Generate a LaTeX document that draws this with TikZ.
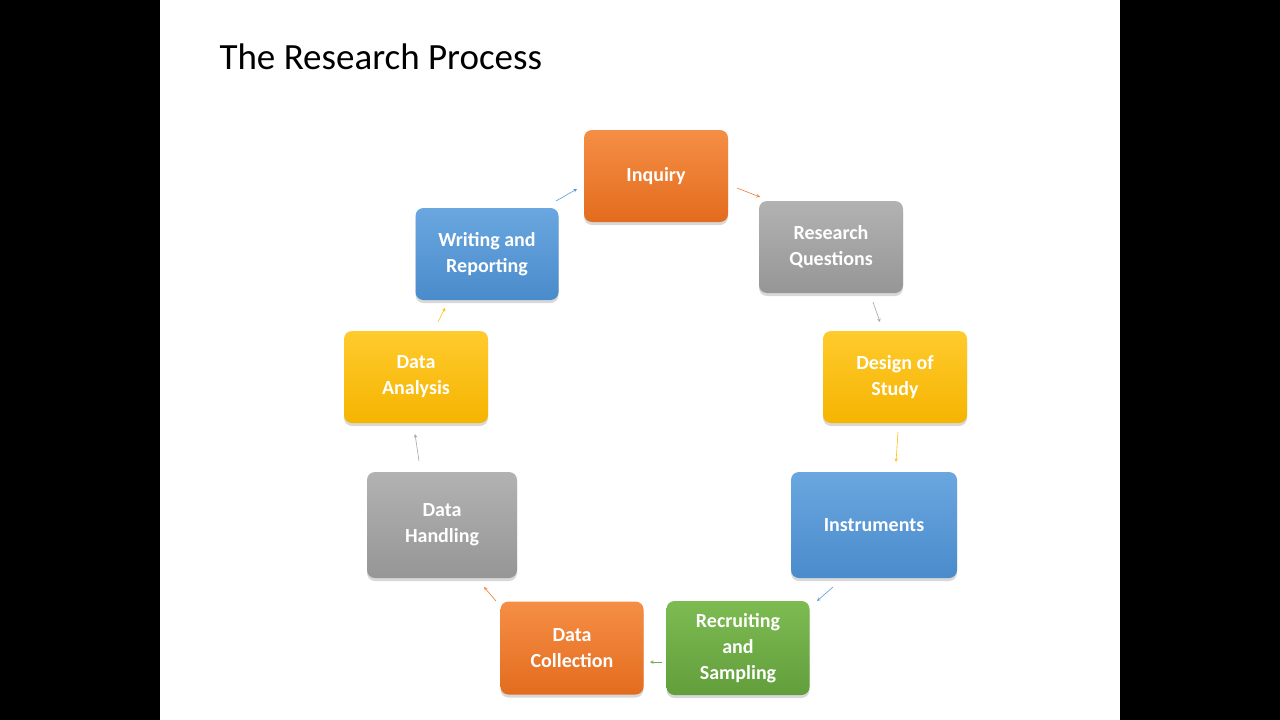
\documentclass[tikz,border=0pt]{standalone}
\usepackage{fontspec}
\setmainfont{Carlito}
\usetikzlibrary{shadows}
\definecolor{cor}{HTML}{ED7D31}\definecolor{corT}{HTML}{F58E45}\definecolor{corB}{HTML}{E36C1E}
\definecolor{cgr}{HTML}{A5A5A5}\definecolor{cgrT}{HTML}{B2B2B2}\definecolor{cgrB}{HTML}{969696}
\definecolor{cye}{HTML}{FFC000}\definecolor{cyeT}{HTML}{FFCB2E}\definecolor{cyeB}{HTML}{F5B400}
\definecolor{cbl}{HTML}{5B9BD5}\definecolor{cblT}{HTML}{6AA7E0}\definecolor{cblB}{HTML}{4A8BCB}
\definecolor{cgn}{HTML}{70AD47}\definecolor{cgnT}{HTML}{7DBB52}\definecolor{cgnB}{HTML}{629E3B}
\tikzset{
 box/.style={rounded corners=8pt, text=white, font=\bfseries\fontsize{20}{26}\selectfont, align=center, inner sep=0pt, drop shadow={shadow xshift=0pt,shadow yshift=-3pt,opacity=0.3}},
 bo/.style={box, top color=corT, bottom color=corB},
 bg/.style={box, top color=cgrT, bottom color=cgrB},
 by/.style={box, top color=cyeT, bottom color=cyeB},
 bb/.style={box, top color=cblT, bottom color=cblB},
 bn/.style={box, top color=cgnT, bottom color=cgnB},
 arr/.style={->, line width=0.6pt, >={stealth}},
}
\begin{document}
\begin{tikzpicture}[x=1pt,y=-1pt]
\fill[black] (0,0) rectangle (1280,720);
\fill[white] (160,0) rectangle (1120,720);
\useasboundingbox (0,0) rectangle (1280,720);
\node[anchor=west, font=\fontsize{37}{44}\selectfont] (title) at (216,57) {The Research Process};
\node[bo, minimum width=144, minimum height=92] (inq) at (656,176) {Inquiry};
\node[bg, minimum width=144, minimum height=92] (rq) at (831,247) {Research\\Questions};
\node[by, minimum width=144, minimum height=92] (ds) at (895,377) {Design of\\Study};
\node[bb, minimum width=166, minimum height=106] (ins) at (874,525) {Instruments};
\node[bn, minimum width=143, minimum height=94] (rs) at (738,648) {Recruiting\\and\\Sampling};
\node[bo, minimum width=143, minimum height=93] (dc) at (572,648) {Data\\Collection};
\node[bg, minimum width=150, minimum height=106] (dh) at (442,525) {Data\\Handling};
\node[by, minimum width=144, minimum height=92] (da) at (416,377) {Data\\Analysis};
\node[bb, minimum width=143, minimum height=92] (wr) at (487,254) {Writing and\\Reporting};
\coordinate (a1) at (737,188); \coordinate (b1) at (760,197);
\coordinate (a2) at (873,302); \coordinate (b2) at (880,322);
\coordinate (a3) at (898,432); \coordinate (b3) at (896,462);
\coordinate (a4) at (833,587); \coordinate (b4) at (817,601);
\coordinate (a5) at (662,662); \coordinate (b5) at (650,662);
\coordinate (a6) at (496,601); \coordinate (b6) at (484,587);
\coordinate (a7) at (419,461); \coordinate (b7) at (415,434);
\coordinate (a8) at (438,322); \coordinate (b8) at (445,308);
\coordinate (a9) at (556,201); \coordinate (b9) at (577,189);
\draw[arr,cor] (a1) -- (b1);
\draw[arr,cgr] (a2) -- (b2);
\draw[arr,cye] (a3) -- (b3);
\draw[arr,cbl] (a4) -- (b4);
\draw[arr,cgn] (a5) -- (b5);
\draw[arr,cor] (a6) -- (b6);
\draw[arr,cgr] (a7) -- (b7);
\draw[arr,cye] (a8) -- (b8);
\draw[arr,cbl] (a9) -- (b9);
\end{tikzpicture}
\end{document}
